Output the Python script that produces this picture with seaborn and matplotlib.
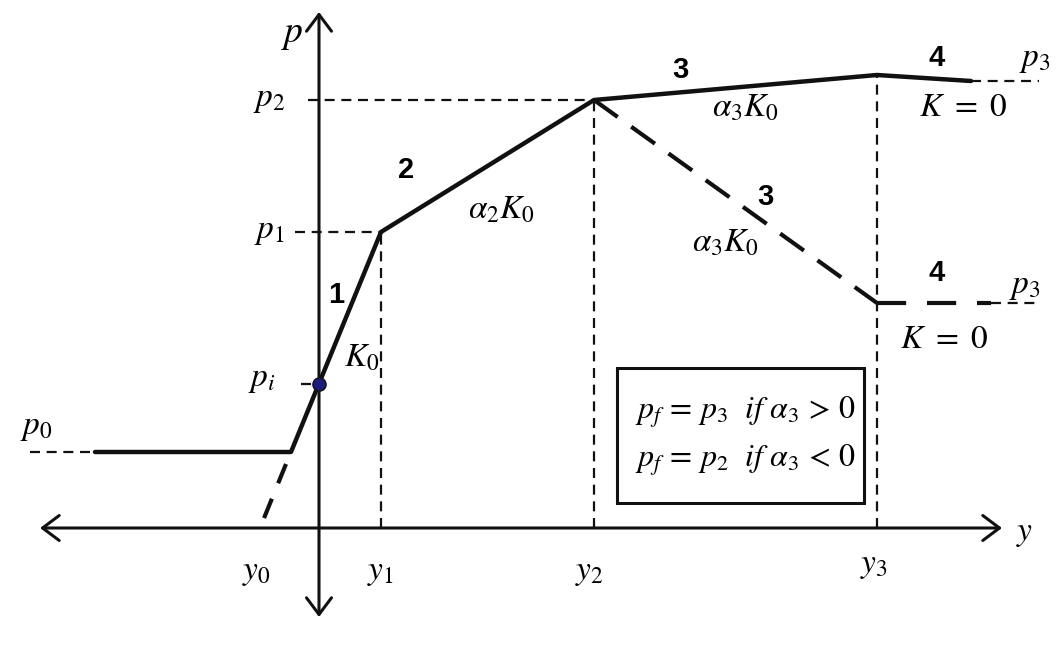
import numpy as np
import pandas as pd
import matplotlib
matplotlib.use("Agg")
import matplotlib.pyplot as plt
import seaborn as sns

# key abscissae (y axis positions) and pressure levels, schematic units
y0 = -59
y1 = 62
y2 = 275
y3 = 558
y_kink = -28

p0 = 76
p_i = 144
p1 = 296
p2 = 428
p_peak = 453
p3_up = 447
p3_low = 225

# main solid path (alpha3 > 0)
upper_y = [-224, y_kink, y1, y2, y3, 652]
upper_p = [p0, p0, p1, p2, p_peak, p3_up]

# lower dashed branch (alpha3 < 0)
lower_y = [y2, y3]
lower_p = [p2, p3_low]
flat_y = [y3, 672]
flat_p = [p3_low, p3_low]

# extrapolation of segment 1 down to y0
ext_y = [-33, y0]
ext_p = [64, 0]

sns.set_style("white")
plt.rcParams["mathtext.fontset"] = "stix"
plt.rcParams["font.family"] = ["Liberation Serif", "DejaVu Serif"]
plt.rcParams["text.color"] = "black"

fig = plt.figure(figsize=(10.64, 6.56), dpi=100)
ax = fig.add_axes([0, 0, 1, 1])
ax.set_xlim(-319, 745)
ax.set_ylim(-128, 528)
ax.axis("off")

ink = "#111111"
df = pd.DataFrame({"y": upper_y, "p": upper_p})
sns.lineplot(data=df, x="y", y="p", sort=False, color=ink, lw=3.2, ax=ax)
sns.lineplot(x=lower_y, y=lower_p, sort=False, color=ink, lw=3.0,
             ax=ax, linestyle=(0, (7, 4)))
sns.lineplot(x=flat_y, y=flat_p, sort=False, color=ink, lw=3.0,
             ax=ax, linestyle=(0, (7, 5)))
sns.lineplot(x=ext_y, y=ext_p, sort=False, color=ink, lw=3.0,
             ax=ax, linestyle=(0, (5, 4)))

thin = dict(color=ink, lw=1.6, linestyle=(0, (4.5, 3)))
# guide lines
ax.plot([-289, -224], [p0, p0], **thin)
ax.plot([-18, 0], [p_i, p_i], **thin)
ax.plot([-24, y1], [p1, p1], **thin)
ax.plot([-11, y2], [p2, p2], **thin)
ax.plot([652, 720], [p3_up, p3_up], **thin)
ax.plot([672, 716], [p3_low, p3_low], **thin)
ax.plot([y1, y1], [0, p1], **thin)
ax.plot([y2, y2], [0, p2], **thin)
ax.plot([y3, y3], [0, p_peak], **thin)

# axes with open arrow heads
arrow = dict(arrowstyle="<->,head_length=0.6,head_width=0.45", lw=2.2,
             color=ink, shrinkA=0, shrinkB=0, mutation_scale=20)
ax.annotate("", xy=(683, 0), xytext=(-279, 0), arrowprops=arrow)
ax.annotate("", xy=(0, 516), xytext=(0, -89), arrowprops=arrow)

ax.scatter([0], [p_i], s=90, color="#1c1c7a", edgecolor=ink, zorder=5)

fs = 24
def lab(x, y, s, **kw):
    ax.text(x, y, s, fontsize=kw.pop("fontsize", fs), ha=kw.pop("ha", "center"),
            va=kw.pop("va", "center"), color="black", **kw)

lab(-27, 493, r"$p$", fontsize=27)
lab(-50, p2, r"$p_2$")
lab(-50, p1, r"$p_1$")
lab(-57, p_i + 4, r"$p_i$")
lab(-283, p0 + 24, r"$p_0$")
lab(y0 - 4, -45, r"$y_0$")
lab(y1 - 1, -45, r"$y_1$")
lab(y2 - 5, -45, r"$y_2$")
lab(y3 - 3, -38, r"$y_3$")
lab(706, -6, r"$y$")
lab(43, 170, r"$K_0$")
lab(182, 318, r"$\alpha_2K_0$")
lab(426, 420, r"$\alpha_3K_0$")
lab(406, 285, r"$\alpha_3K_0$")
lab(644, 420, r"$K\ =\ \mathit{0}$")
lab(625, 188, r"$K\ =\ \mathit{0}$")
lab(716, 468, r"$p_3$")
lab(706, 241, r"$p_3$")

bold = dict(fontsize=21, fontweight="bold", family=["Liberation Sans", "DejaVu Sans"])
lab(17, 233, "1", **bold)
lab(87, 358, "2", **bold)
lab(361, 458, "3", **bold)
lab(446, 331, "3", **bold)
lab(618, 470, "4", **bold)
lab(618, 255, "4", **bold)

box = plt.Rectangle((298, 25), 247, 135, fill=False, lw=2.2, edgecolor=ink)
ax.add_patch(box)
ax.text(316, 116, r"$p_f\,=\,p_3\ \ if\ \alpha_3\,>\,\mathit{0}$", fontsize=23, va="center")
ax.text(316, 68, r"$p_f\,=\,p_2\ \ if\ \alpha_3\,<\,\mathit{0}$", fontsize=23, va="center")

fig.savefig("out.png", dpi=100)
